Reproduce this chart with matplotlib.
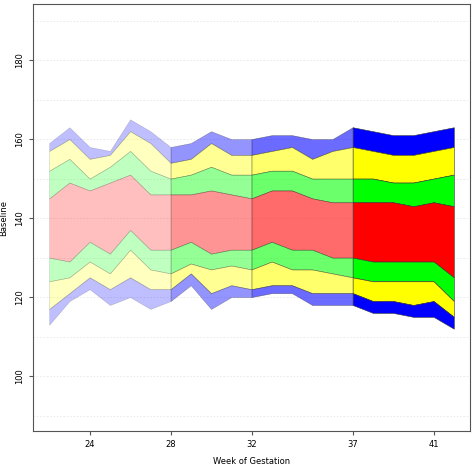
import numpy as np
import matplotlib.pyplot as plt

weeks = np.arange(22, 43)
blue_hi = [159, 163, 158, 157, 165, 162, 158, 159, 162, 160, 160, 161, 161, 160, 160, 163, 162, 161, 161, 162, 163]
yel_hi = [157, 160, 155, 156, 162, 159, 154, 155, 159, 156, 156, 157, 158, 155, 157, 158, 157, 156, 156, 157, 158]
grn_hi = [152, 155, 150, 153, 157, 152, 150, 151, 153, 151, 151, 152, 152, 150, 150, 150, 150, 149, 149, 150, 151]
red_hi = [145, 149, 147, 149, 151, 146, 146, 146, 147, 146, 145, 147, 147, 145, 144, 144, 144, 144, 143, 144, 143]
red_lo = [130, 129, 134, 131, 137, 132, 132, 134, 131, 132, 132, 134, 132, 132, 130, 130, 129, 129, 129, 129, 125]
grn_lo = [124, 125, 129, 126, 132, 127, 126, 128.5, 127, 128, 127, 129, 127, 127, 126, 125, 124, 124, 124, 124, 119]
yel_lo = [117, 121, 125, 122, 125, 122, 122, 126, 121, 123, 122, 123, 123, 121, 121, 121, 119, 119, 118, 119, 115]
blue_lo = [113, 119, 122, 118, 120, 117, 119, 123, 117, 120, 120, 121, 121, 118, 118, 118, 116, 116, 115, 115, 112]

segments = [(22, 28, 0.25), (28, 32, 0.42), (32, 37, 0.58), (37, 42, 1.0)]

fig = plt.figure(figsize=(4.74, 4.67), dpi=100)
ax = fig.add_axes([33 / 474, 36 / 467, 437 / 474, 427 / 467])
for y in range(90, 200, 10):
    ax.axhline(y, color='#e8e8e8', lw=0.6, ls=(0, (2, 2)), zorder=0)

bands = [(blue_hi, yel_hi, 'blue'), (yel_hi, grn_hi, 'yellow'), (grn_hi, red_hi, '#00ff00'),
         (red_hi, red_lo, 'red'), (red_lo, grn_lo, '#00ff00'), (grn_lo, yel_lo, 'yellow'),
         (yel_lo, blue_lo, 'blue')]
for a, b, c in segments:
    m = (weeks >= a) & (weeks <= b)
    for hi, lo, col in bands:
        ax.fill_between(weeks[m], np.array(lo)[m], np.array(hi)[m], color=col, alpha=c, lw=0.4,
                        edgecolor=(0.2, 0.2, 0.2, 0.3 * c))

ax.set_xlim(21.2, 42.8)
ax.set_ylim(86.1, 194.2)
ax.set_xticks([24, 28, 32, 37, 41])
ax.set_yticks([100, 120, 140, 160, 180])
for s in ax.spines.values():
    s.set_color('#555555')
ax.tick_params(labelsize=6, length=3, color='#555555')
for t in ax.get_yticklabels():
    t.set_rotation(90)
    t.set_va('center')
ax.set_xlabel('Week of Gestation', fontsize=6, labelpad=6)
ax.set_ylabel('Baseline', fontsize=6, labelpad=5)
fig.savefig('out.png')
